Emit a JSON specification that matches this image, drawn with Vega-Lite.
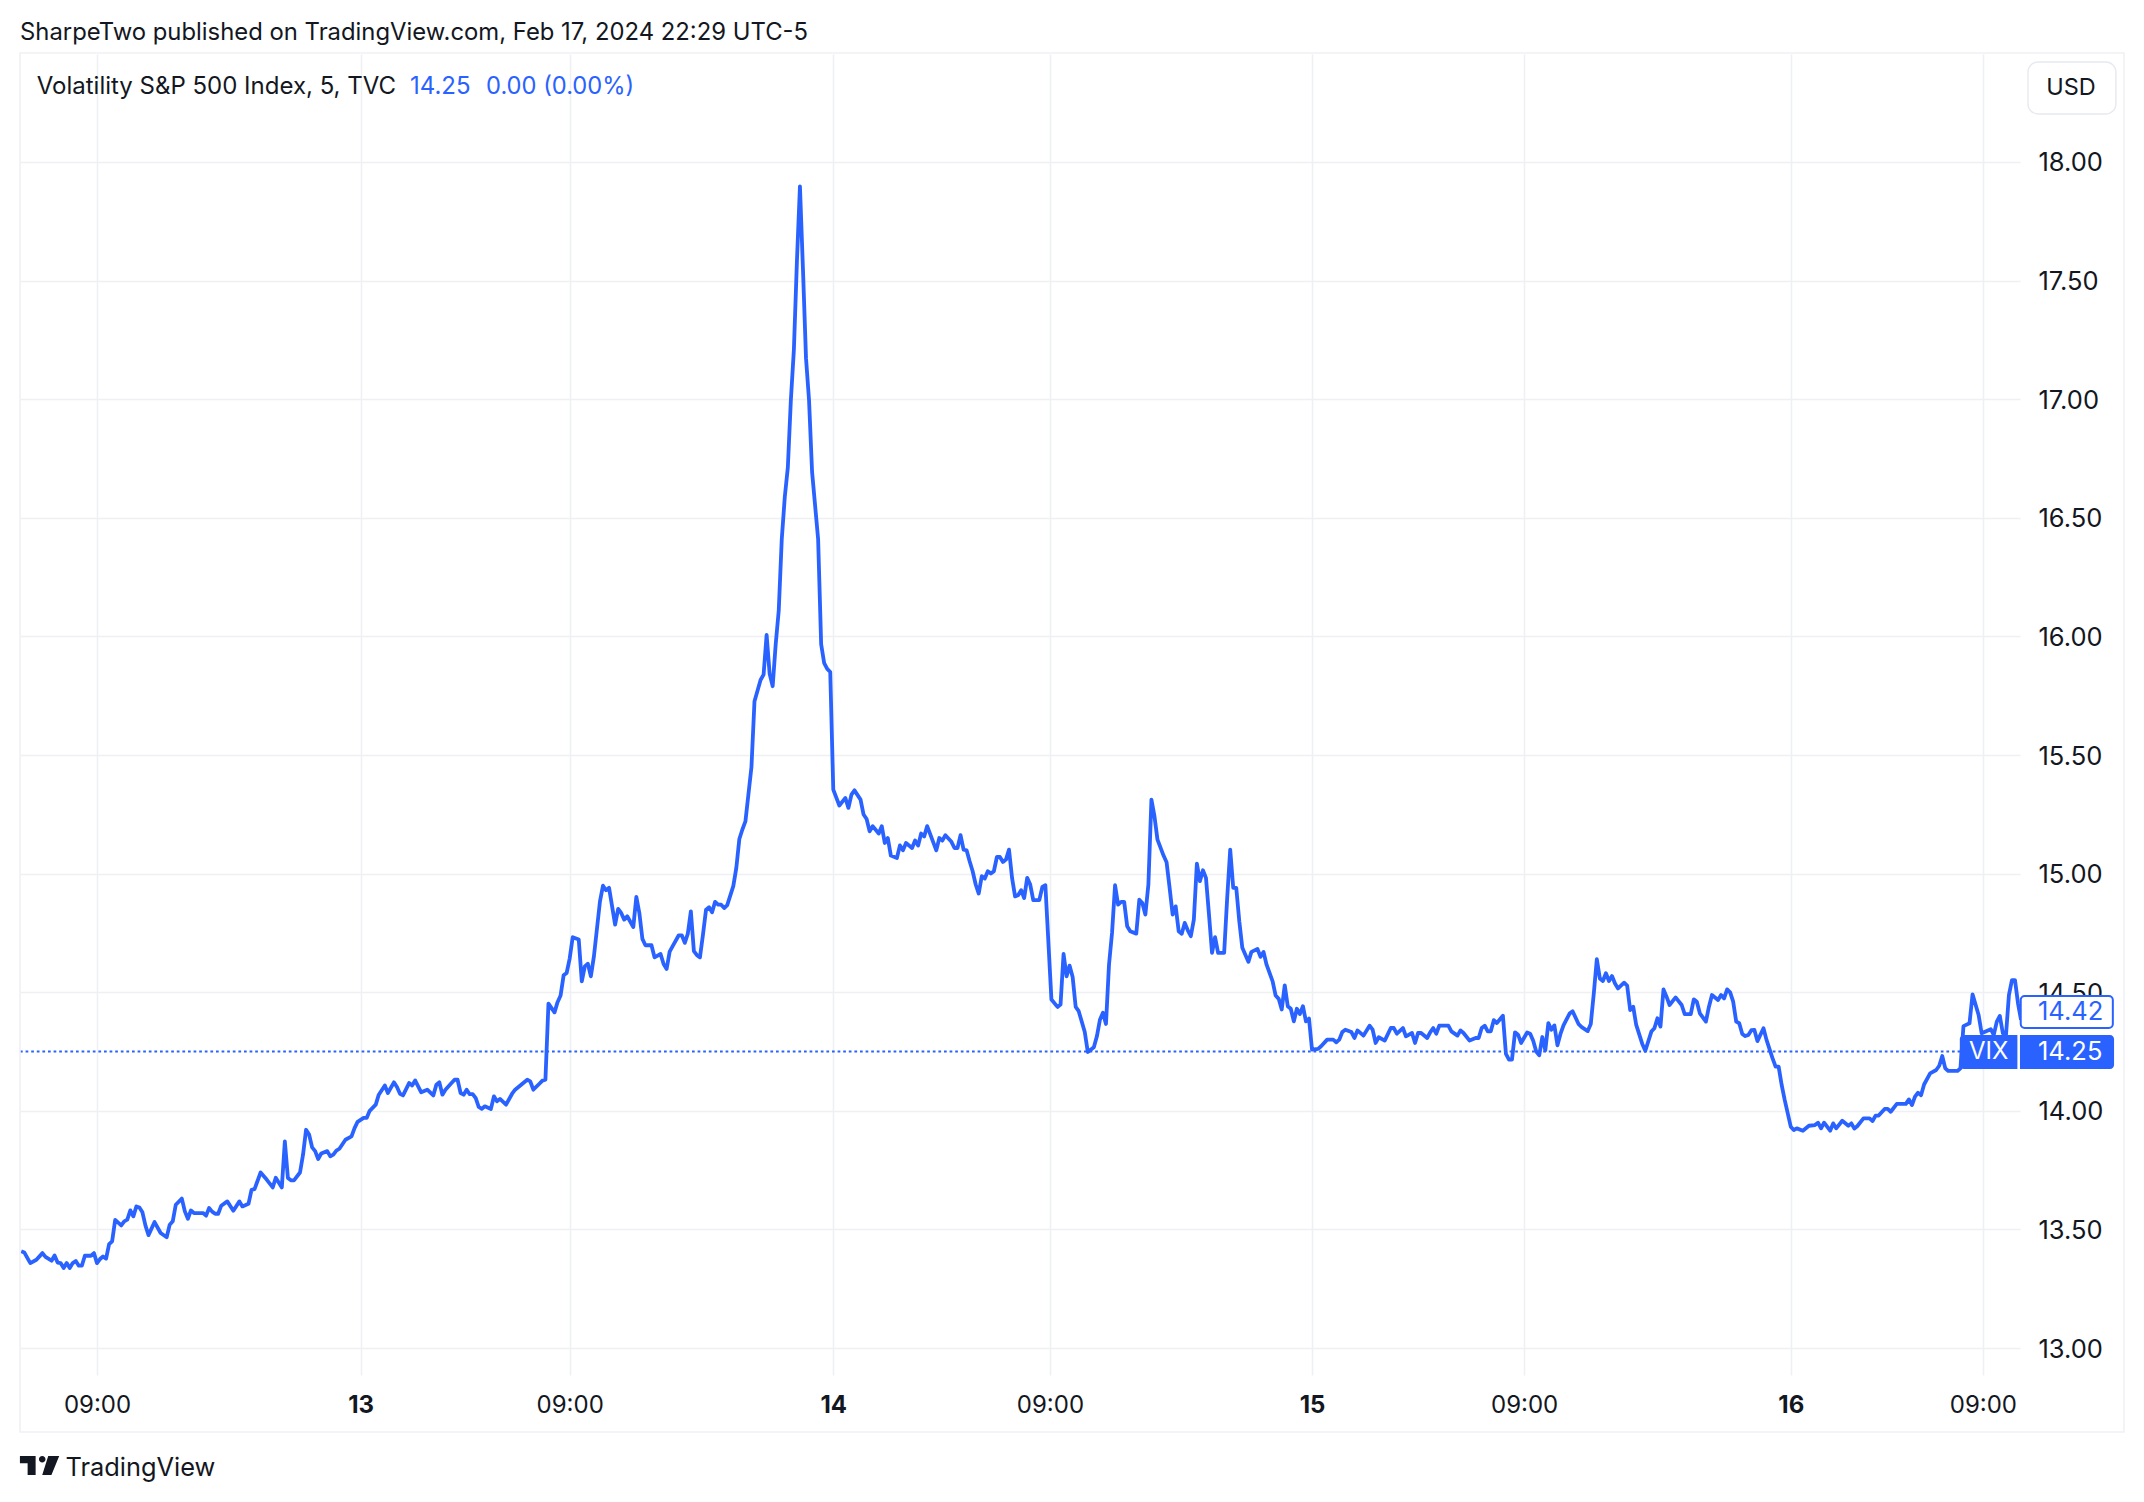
{
  "$schema": "https://vega.github.io/schema/vega-lite/v6.json",
  "description": "VIX 5 minute line chart, Feb 12 to 16 2024",
  "width": 2000,
  "height": 1321,
  "autosize": {"type": "none"},
  "padding": {"left": 20, "top": 54, "right": 124, "bottom": 127},
  "background": "#ffffff",
  "title": {
    "text": "SharpeTwo published on TradingView.com, Feb 17, 2024 22:29 UTC-5",
    "anchor": "start",
    "frame": "group",
    "offset": 7,
    "font": "Inter",
    "fontSize": 23.85,
    "fontWeight": "normal",
    "color": "#131722"
  },
  "config": {"view": {"stroke": null}},
  "datasets": {
    "vix": [
      {"bar":0,"vix":13.408},{"bar":1,"vix":13.403},{"bar":2,"vix":13.38},{"bar":3,"vix":13.358},{"bar":5,"vix":13.372},{"bar":7,"vix":13.4},{"bar":8,"vix":13.384},{"bar":10,"vix":13.368},{"bar":11,"vix":13.39},{"bar":12,"vix":13.36},{"bar":13,"vix":13.358},{"bar":14,"vix":13.337},{"bar":15,"vix":13.358},{"bar":16,"vix":13.337},{"bar":17,"vix":13.358},{"bar":18,"vix":13.367},{"bar":19,"vix":13.347},{"bar":20,"vix":13.347},{"bar":21,"vix":13.389},{"bar":23,"vix":13.389},{"bar":24,"vix":13.4},{"bar":25,"vix":13.358},{"bar":26,"vix":13.375},{"bar":27,"vix":13.386},{"bar":28,"vix":13.377},{"bar":29,"vix":13.438},{"bar":30,"vix":13.45},{"bar":31,"vix":13.54},{"bar":33,"vix":13.517},{"bar":34,"vix":13.534},{"bar":35,"vix":13.541},{"bar":36,"vix":13.58},{"bar":37,"vix":13.555},{"bar":38,"vix":13.597},{"bar":39,"vix":13.592},{"bar":40,"vix":13.572},{"bar":41,"vix":13.516},{"bar":42,"vix":13.476},{"bar":44,"vix":13.531},{"bar":46,"vix":13.485},{"bar":48,"vix":13.467},{"bar":49,"vix":13.52},{"bar":50,"vix":13.534},{"bar":51,"vix":13.604},{"bar":53,"vix":13.63},{"bar":54,"vix":13.576},{"bar":55,"vix":13.545},{"bar":56,"vix":13.58},{"bar":57,"vix":13.569},{"bar":60,"vix":13.569},{"bar":61,"vix":13.558},{"bar":62,"vix":13.59},{"bar":63,"vix":13.575},{"bar":64,"vix":13.566},{"bar":65,"vix":13.566},{"bar":66,"vix":13.6},{"bar":68,"vix":13.618},{"bar":70,"vix":13.579},{"bar":72,"vix":13.618},{"bar":73,"vix":13.597},{"bar":75,"vix":13.608},{"bar":76,"vix":13.667},{"bar":77,"vix":13.67},{"bar":79,"vix":13.74},{"bar":81,"vix":13.71},{"bar":83,"vix":13.677},{"bar":84,"vix":13.718},{"bar":86,"vix":13.677},{"bar":87,"vix":13.871},{"bar":88,"vix":13.717},{"bar":89,"vix":13.707},{"bar":90,"vix":13.707},{"bar":92,"vix":13.74},{"bar":93,"vix":13.815},{"bar":94,"vix":13.92},{"bar":95,"vix":13.9},{"bar":96,"vix":13.846},{"bar":97,"vix":13.83},{"bar":98,"vix":13.797},{"bar":99,"vix":13.82},{"bar":101,"vix":13.83},{"bar":102,"vix":13.808},{"bar":103,"vix":13.815},{"bar":104,"vix":13.832},{"bar":105,"vix":13.84},{"bar":107,"vix":13.878},{"bar":109,"vix":13.892},{"bar":110,"vix":13.927},{"bar":111,"vix":13.953},{"bar":113,"vix":13.97},{"bar":114,"vix":13.97},{"bar":115,"vix":14.0},{"bar":117,"vix":14.026},{"bar":118,"vix":14.068},{"bar":120,"vix":14.107},{"bar":121,"vix":14.075},{"bar":123,"vix":14.12},{"bar":124,"vix":14.1},{"bar":125,"vix":14.072},{"bar":126,"vix":14.065},{"bar":128,"vix":14.117},{"bar":129,"vix":14.107},{"bar":130,"vix":14.128},{"bar":132,"vix":14.078},{"bar":134,"vix":14.089},{"bar":136,"vix":14.065},{"bar":137,"vix":14.11},{"bar":138,"vix":14.12},{"bar":139,"vix":14.068},{"bar":140,"vix":14.089},{"bar":142,"vix":14.117},{"bar":143,"vix":14.131},{"bar":144,"vix":14.131},{"bar":145,"vix":14.075},{"bar":146,"vix":14.068},{"bar":147,"vix":14.089},{"bar":148,"vix":14.07},{"bar":149,"vix":14.07},{"bar":150,"vix":14.053},{"bar":151,"vix":14.016},{"bar":152,"vix":14.008},{"bar":153,"vix":14.019},{"bar":155,"vix":14.008},{"bar":156,"vix":14.061},{"bar":157,"vix":14.04},{"bar":158,"vix":14.05},{"bar":160,"vix":14.026},{"bar":162,"vix":14.072},{"bar":163,"vix":14.089},{"bar":165,"vix":14.11},{"bar":167,"vix":14.131},{"bar":168,"vix":14.124},{"bar":169,"vix":14.089},{"bar":171,"vix":14.114},{"bar":172,"vix":14.127},{"bar":173,"vix":14.131},
      {"bar":174,"vix":14.452},{"bar":176,"vix":14.415},{"bar":177,"vix":14.458},{"bar":178,"vix":14.486},{"bar":179,"vix":14.571},{"bar":180,"vix":14.581},{"bar":181,"vix":14.642},{"bar":182,"vix":14.732},{"bar":184,"vix":14.722},{"bar":185,"vix":14.546},{"bar":186,"vix":14.609},{"bar":187,"vix":14.62},{"bar":188,"vix":14.567},{"bar":189,"vix":14.651},{"bar":191,"vix":14.883},{"bar":192,"vix":14.949},{"bar":193,"vix":14.93},{"bar":194,"vix":14.94},{"bar":196,"vix":14.785},{"bar":197,"vix":14.851},{"bar":198,"vix":14.834},{"bar":199,"vix":14.806},{"bar":200,"vix":14.82},{"bar":202,"vix":14.775},{"bar":203,"vix":14.902},{"bar":204,"vix":14.834},{"bar":205,"vix":14.725},{"bar":206,"vix":14.698},{"bar":208,"vix":14.698},{"bar":209,"vix":14.647},{"bar":211,"vix":14.661},{"bar":212,"vix":14.619},{"bar":213,"vix":14.598},{"bar":214,"vix":14.671},{"bar":215,"vix":14.694},{"bar":217,"vix":14.74},{"bar":218,"vix":14.74},{"bar":219,"vix":14.708},{"bar":220,"vix":14.747},{"bar":221,"vix":14.841},{"bar":222,"vix":14.673},{"bar":223,"vix":14.656},{"bar":224,"vix":14.647},{"bar":225,"vix":14.743},{"bar":226,"vix":14.848},{"bar":227,"vix":14.858},{"bar":228,"vix":14.837},{"bar":229,"vix":14.881},{"bar":230,"vix":14.869},{"bar":231,"vix":14.869},{"bar":232,"vix":14.855},{"bar":233,"vix":14.867},{"bar":235,"vix":14.947},{"bar":236,"vix":15.024},{"bar":237,"vix":15.146},{"bar":238,"vix":15.186},{"bar":239,"vix":15.22},
      {"bar":241,"vix":15.45},{"bar":242,"vix":15.727},{"bar":244,"vix":15.816},{"bar":245,"vix":15.839},{"bar":246,"vix":16.006},{"bar":247,"vix":15.842},{"bar":248,"vix":15.79},{"bar":249,"vix":15.967},{"bar":250,"vix":16.109},{"bar":251,"vix":16.41},{"bar":252,"vix":16.588},{"bar":253,"vix":16.712},{"bar":254,"vix":16.996},{"bar":255,"vix":17.209},{"bar":256,"vix":17.581},{"bar":257,"vix":17.897},{"bar":258,"vix":17.546},{"bar":259,"vix":17.173},{"bar":260,"vix":16.996},{"bar":261,"vix":16.694},{"bar":263,"vix":16.41},{"bar":264,"vix":15.967},{"bar":265,"vix":15.887},{"bar":266,"vix":15.863},{"bar":267,"vix":15.85},{"bar":268,"vix":15.354},
      {"bar":270,"vix":15.287},{"bar":272,"vix":15.319},{"bar":273,"vix":15.277},{"bar":274,"vix":15.333},{"bar":275,"vix":15.351},{"bar":277,"vix":15.312},{"bar":278,"vix":15.249},{"bar":279,"vix":15.23},{"bar":280,"vix":15.178},{"bar":281,"vix":15.2},{"bar":283,"vix":15.169},{"bar":284,"vix":15.2},{"bar":285,"vix":15.129},{"bar":286,"vix":15.15},{"bar":287,"vix":15.076},{"bar":289,"vix":15.066},{"bar":290,"vix":15.119},{"bar":291,"vix":15.098},{"bar":292,"vix":15.129},{"bar":294,"vix":15.108},{"bar":295,"vix":15.14},{"bar":296,"vix":15.118},{"bar":297,"vix":15.169},{"bar":298,"vix":15.157},{"bar":299,"vix":15.2},{"bar":302,"vix":15.098},{"bar":303,"vix":15.15},{"bar":304,"vix":15.139},{"bar":305,"vix":15.162},{"bar":307,"vix":15.134},{"bar":308,"vix":15.108},{"bar":309,"vix":15.108},{"bar":310,"vix":15.162},{"bar":311,"vix":15.101},{"bar":312,"vix":15.098},{"bar":313,"vix":15.052},{"bar":314,"vix":15.01},{"bar":315,"vix":14.954},{"bar":316,"vix":14.916},{"bar":317,"vix":14.989},{"bar":318,"vix":14.979},{"bar":319,"vix":15.01},{"bar":320,"vix":15.0},{"bar":321,"vix":15.01},{"bar":322,"vix":15.07},{"bar":323,"vix":15.07},{"bar":324,"vix":15.049},{"bar":325,"vix":15.059},{"bar":326,"vix":15.101},{"bar":327,"vix":14.982},{"bar":328,"vix":14.904},{"bar":329,"vix":14.909},{"bar":330,"vix":14.93},{"bar":331,"vix":14.897},{"bar":332,"vix":14.982},{"bar":333,"vix":14.954},{"bar":334,"vix":14.888},{"bar":336,"vix":14.888},{"bar":337,"vix":14.944},{"bar":338,"vix":14.951},{"bar":340,"vix":14.469},{"bar":342,"vix":14.438},{"bar":343,"vix":14.448},{"bar":344,"vix":14.661},{"bar":345,"vix":14.567},{"bar":346,"vix":14.612},{"bar":347,"vix":14.564},{"bar":348,"vix":14.438},{"bar":349,"vix":14.42},{"bar":351,"vix":14.332},
      {"bar":352,"vix":14.248},{"bar":354,"vix":14.268},{"bar":355,"vix":14.314},{"bar":356,"vix":14.384},{"bar":357,"vix":14.413},{"bar":358,"vix":14.366},{"bar":359,"vix":14.616},{"bar":360,"vix":14.75},{"bar":361,"vix":14.951},{"bar":362,"vix":14.869},{"bar":363,"vix":14.881},{"bar":364,"vix":14.881},{"bar":365,"vix":14.778},{"bar":366,"vix":14.757},{"bar":368,"vix":14.747},{"bar":369,"vix":14.89},{"bar":370,"vix":14.876},{"bar":371,"vix":14.827},{"bar":372,"vix":14.954},{"bar":373,"vix":15.312},{"bar":374,"vix":15.242},{"bar":375,"vix":15.143},{"bar":377,"vix":15.076},{"bar":378,"vix":15.048},{"bar":379,"vix":14.94},{"bar":380,"vix":14.827},{"bar":381,"vix":14.862},{"bar":382,"vix":14.757},{"bar":383,"vix":14.746},{"bar":384,"vix":14.792},{"bar":385,"vix":14.761},{"bar":386,"vix":14.736},{"bar":387,"vix":14.806},{"bar":388,"vix":15.042},{"bar":389,"vix":14.968},{"bar":390,"vix":15.014},{"bar":391,"vix":14.982},{"bar":392,"vix":14.827},{"bar":393,"vix":14.666},{"bar":394,"vix":14.732},{"bar":395,"vix":14.666},{"bar":397,"vix":14.666},{"bar":398,"vix":14.897},{"bar":399,"vix":15.101},{"bar":400,"vix":14.94},{"bar":401,"vix":14.94},{"bar":402,"vix":14.799},{"bar":403,"vix":14.687},{"bar":405,"vix":14.628},{"bar":406,"vix":14.67},{"bar":408,"vix":14.682},{"bar":409,"vix":14.649},{"bar":410,"vix":14.67},{"bar":411,"vix":14.616},{"bar":413,"vix":14.546},{"bar":414,"vix":14.486},{"bar":415,"vix":14.472},{"bar":416,"vix":14.427},{"bar":417,"vix":14.529},{"bar":418,"vix":14.441},{"bar":419,"vix":14.43},{"bar":420,"vix":14.377},{"bar":421,"vix":14.43},{"bar":422,"vix":14.408},{"bar":423,"vix":14.441},{"bar":424,"vix":14.377},{"bar":425,"vix":14.389},{"bar":426,"vix":14.258},{"bar":428,"vix":14.261},{"bar":429,"vix":14.272},{"bar":431,"vix":14.3},{"bar":433,"vix":14.3},{"bar":434,"vix":14.289},{"bar":435,"vix":14.3},{"bar":436,"vix":14.332},{"bar":437,"vix":14.342},{"bar":439,"vix":14.332},{"bar":440,"vix":14.307},{"bar":441,"vix":14.339},{"bar":443,"vix":14.317},{"bar":445,"vix":14.359},{"bar":446,"vix":14.342},{"bar":447,"vix":14.286},{"bar":448,"vix":14.31},{"bar":450,"vix":14.296},{"bar":452,"vix":14.349},{"bar":453,"vix":14.349},{"bar":454,"vix":14.325},{"bar":456,"vix":14.349},{"bar":457,"vix":14.314},{"bar":459,"vix":14.328},{"bar":460,"vix":14.286},{"bar":461,"vix":14.328},{"bar":462,"vix":14.328},{"bar":464,"vix":14.307},{"bar":465,"vix":14.331},{"bar":466,"vix":14.349},{"bar":467,"vix":14.325},{"bar":468,"vix":14.359},{"bar":471,"vix":14.359},{"bar":472,"vix":14.335},{"bar":474,"vix":14.317},{"bar":475,"vix":14.339},{"bar":476,"vix":14.328},{"bar":478,"vix":14.296},{"bar":480,"vix":14.307},{"bar":481,"vix":14.307},{"bar":482,"vix":14.349},{"bar":483,"vix":14.359},{"bar":484,"vix":14.335},{"bar":485,"vix":14.335},{"bar":486,"vix":14.382},{"bar":487,"vix":14.37},{"bar":489,"vix":14.401},{"bar":490,"vix":14.24},{"bar":491,"vix":14.216},{"bar":492,"vix":14.216},{"bar":493,"vix":14.331},{"bar":494,"vix":14.321},{"bar":495,"vix":14.286},{"bar":497,"vix":14.33},{"bar":498,"vix":14.325},{"bar":499,"vix":14.295},{"bar":500,"vix":14.25},{"bar":501,"vix":14.234},{"bar":502,"vix":14.311},{"bar":503,"vix":14.255},{"bar":504,"vix":14.37},{"bar":505,"vix":14.342},{"bar":506,"vix":14.36},{"bar":507,"vix":14.276},{"bar":508,"vix":14.324},{"bar":509,"vix":14.36},{"bar":511,"vix":14.41},{"bar":512,"vix":14.42},{"bar":514,"vix":14.365},{"bar":515,"vix":14.353},{"bar":517,"vix":14.336},{"bar":518,"vix":14.366},
      {"bar":519,"vix":14.495},{"bar":520,"vix":14.639},{"bar":521,"vix":14.558},{"bar":522,"vix":14.547},{"bar":523,"vix":14.58},{"bar":524,"vix":14.547},{"bar":525,"vix":14.568},{"bar":526,"vix":14.537},{"bar":527,"vix":14.516},{"bar":529,"vix":14.54},{"bar":530,"vix":14.528},{"bar":531,"vix":14.425},{"bar":532,"vix":14.439},{"bar":533,"vix":14.362},{"bar":535,"vix":14.282},{"bar":536,"vix":14.253},{"bar":538,"vix":14.334},{"bar":539,"vix":14.348},{"bar":540,"vix":14.39},{"bar":541,"vix":14.355},{"bar":542,"vix":14.512},{"bar":543,"vix":14.481},{"bar":544,"vix":14.446},{"bar":546,"vix":14.478},{"bar":548,"vix":14.446},{"bar":549,"vix":14.408},{"bar":551,"vix":14.408},{"bar":552,"vix":14.47},{"bar":553,"vix":14.46},{"bar":554,"vix":14.411},{"bar":556,"vix":14.376},{"bar":557,"vix":14.439},{"bar":558,"vix":14.488},{"bar":560,"vix":14.467},{"bar":561,"vix":14.488},{"bar":562,"vix":14.474},{"bar":563,"vix":14.512},{"bar":564,"vix":14.499},{"bar":565,"vix":14.46},{"bar":566,"vix":14.376},{"bar":567,"vix":14.369},{"bar":568,"vix":14.324},{"bar":569,"vix":14.315},{"bar":570,"vix":14.32},{"bar":571,"vix":14.34},{"bar":572,"vix":14.341},{"bar":573,"vix":14.294},{"bar":575,"vix":14.348},{"bar":576,"vix":14.299},{"bar":578,"vix":14.221},{"bar":579,"vix":14.186},{"bar":580,"vix":14.186},{"bar":581,"vix":14.109},{"bar":582,"vix":14.046},{"bar":584,"vix":13.933},{"bar":585,"vix":13.919},{"bar":586,"vix":13.926},{"bar":588,"vix":13.916},{"bar":590,"vix":13.937},{"bar":592,"vix":13.94},{"bar":593,"vix":13.95},{"bar":594,"vix":13.926},{"bar":595,"vix":13.95},{"bar":597,"vix":13.916},{"bar":598,"vix":13.947},{"bar":599,"vix":13.926},{"bar":601,"vix":13.958},{"bar":603,"vix":13.937},{"bar":604,"vix":13.947},{"bar":605,"vix":13.925},{"bar":606,"vix":13.936},{"bar":608,"vix":13.968},{"bar":610,"vix":13.968},{"bar":611,"vix":13.957},{"bar":612,"vix":13.98},{"bar":613,"vix":13.98},{"bar":615,"vix":14.008},{"bar":616,"vix":14.008},{"bar":617,"vix":13.996},{"bar":619,"vix":14.029},{"bar":622,"vix":14.029},{"bar":623,"vix":14.048},{"bar":624,"vix":14.024},{"bar":625,"vix":14.06},{"bar":626,"vix":14.076},{"bar":627,"vix":14.066},{"bar":628,"vix":14.111},{"bar":630,"vix":14.158},{"bar":632,"vix":14.172},{"bar":633,"vix":14.19},{"bar":634,"vix":14.231},{"bar":635,"vix":14.179},{"bar":636,"vix":14.168},{"bar":639,"vix":14.168},{"bar":640,"vix":14.179},{"bar":641,"vix":14.357},{"bar":643,"vix":14.369},{"bar":644,"vix":14.491},{"bar":646,"vix":14.404},{"bar":647,"vix":14.327},{"bar":650,"vix":14.344},{"bar":651,"vix":14.32},{"bar":652,"vix":14.376},{"bar":653,"vix":14.4},{"bar":654,"vix":14.327},{"bar":655,"vix":14.313},{"bar":656,"vix":14.488},{"bar":657,"vix":14.551},{"bar":658,"vix":14.551},{"bar":659,"vix":14.453},{"bar":660,"vix":14.383}
    ]
  },
  "data": {"name": "vix"},
  "layer": [
    {
      "mark": {"type": "rule", "color": "#2962ff", "strokeWidth": 2, "strokeDash": [2.7, 2.9]},
      "data": {"values": [{}]},
      "encoding": {
        "y": {"datum": 14.25, "type": "quantitative"},
        "x": {"datum": -0.41, "type": "quantitative"},
        "x2": {"datum": 640}
      }
    },
    {
      "mark": {"type": "line", "color": "#2962ff", "strokeWidth": 3.8, "strokeJoin": "round"},
      "encoding": {
        "x": {
          "field": "bar",
          "type": "quantitative",
          "title": null,
          "scale": {"domain": [-0.41, 659.66], "nice": false, "zero": false},
          "axis": {
            "title": null,
            "orient": "bottom",
            "values": [25, 112, 181, 268, 339.5, 426, 496, 584, 647.4],
            "labelExpr": "datum.value==112?'13':datum.value==268?'14':datum.value==426?'15':datum.value==584?'16':'09:00'",
            "labelFontWeight": {"condition": {"test": "datum.value==112||datum.value==268||datum.value==426||datum.value==584", "value": "bold"}, "value": "normal"},
            "labelFont": "Inter",
            "labelFontSize": 24,
            "labelColor": "#131722",
            "labelPadding": 18,
            "labelOverlap": false,
            "labelFlush": false,
            "ticks": false,
            "domain": false,
            "grid": true,
            "gridColor": "#eff0f3",
            "gridWidth": 1.6
          }
        },
        "y": {
          "field": "vix",
          "type": "quantitative",
          "title": null,
          "scale": {"domain": [12.8862, 18.4553], "nice": false, "zero": false},
          "axis": {
            "title": null,
            "orient": "right",
            "values": [13, 13.5, 14, 14.5, 15, 15.5, 16, 16.5, 17, 17.5, 18],
            "format": ".2f",
            "labelFont": "Inter",
            "labelFontSize": 25.5,
            "labelColor": "#131722",
            "labelPadding": 18,
            "labelOffset": 1,
            "labelOverlap": false,
            "labelFlush": false,
            "ticks": false,
            "domain": false,
            "grid": true,
            "gridColor": "#eff0f3",
            "gridWidth": 1.6
          }
        }
      }
    },
    {
      "mark": {"type": "rect", "fill": "transparent", "stroke": "#f0f0f6", "strokeWidth": 1.6},
      "data": {"values": [{}]},
      "encoding": {
        "x": {"datum": -0.41, "type": "quantitative"},
        "x2": {"datum": 693.98},
        "y": {"datum": 18.4595, "type": "quantitative"},
        "y2": {"datum": 12.646}
      }
    },
    {
      "mark": {"type": "rect", "fill": "#ffffff", "stroke": "#e8e9ef", "strokeWidth": 1.4, "cornerRadius": 10},
      "data": {"values": [{}]},
      "encoding": {
        "x": {"datum": 662.3, "type": "quantitative"},
        "x2": {"datum": 691.3},
        "y": {"datum": 18.4216, "type": "quantitative"},
        "y2": {"datum": 18.2024}
      }
    },
    {
      "mark": {"type": "rect", "fill": "#ffffff", "stroke": "#2962ff", "strokeWidth": 2, "cornerRadius": 4},
      "data": {"values": [{}]},
      "encoding": {
        "x": {"datum": 659.9, "type": "quantitative"},
        "x2": {"datum": 690.3},
        "y": {"datum": 14.484, "type": "quantitative"},
        "y2": {"datum": 14.349}
      }
    },
    {
      "mark": {"type": "rect", "fill": "#2962ff", "cornerRadiusTopLeft": 4, "cornerRadiusBottomLeft": 4},
      "data": {"values": [{}]},
      "encoding": {
        "x": {"datum": 639.8, "type": "quantitative"},
        "x2": {"datum": 658.8},
        "y": {"datum": 14.3196, "type": "quantitative"},
        "y2": {"datum": 14.1762}
      }
    },
    {
      "mark": {"type": "rect", "fill": "#2962ff", "cornerRadiusTopRight": 4, "cornerRadiusBottomRight": 4},
      "data": {"values": [{}]},
      "encoding": {
        "x": {"datum": 659.65, "type": "quantitative"},
        "x2": {"datum": 690.7},
        "y": {"datum": 14.3196, "type": "quantitative"},
        "y2": {"datum": 14.1762}
      }
    },
    {
      "mark": {"type": "text", "text": "14.42", "align": "left", "baseline": "middle", "font": "Inter", "fontSize": 25.5, "color": "#2962ff"},
      "data": {"values": [{}]},
      "encoding": {
        "x": {"datum": 665.6, "type": "quantitative"},
        "y": {"datum": 14.417, "type": "quantitative"}
      }
    },
    {
      "mark": {"type": "text", "text": "14.25", "align": "left", "baseline": "middle", "font": "Inter", "fontSize": 25.5, "color": "#ffffff"},
      "data": {"values": [{}]},
      "encoding": {
        "x": {"datum": 665.6, "type": "quantitative"},
        "y": {"datum": 14.248, "type": "quantitative"}
      }
    },
    {
      "mark": {"type": "text", "text": "VIX", "align": "center", "baseline": "middle", "font": "Inter", "fontSize": 24, "color": "#ffffff"},
      "data": {"values": [{}]},
      "encoding": {
        "x": {"datum": 649.3, "type": "quantitative"},
        "y": {"datum": 14.248, "type": "quantitative"}
      }
    },
    {
      "mark": {"type": "text", "text": "USD", "align": "center", "baseline": "middle", "font": "Inter", "fontSize": 23.5, "color": "#131722"},
      "data": {"values": [{}]},
      "encoding": {
        "x": {"datum": 676.5, "type": "quantitative"},
        "y": {"datum": 18.31, "type": "quantitative"}
      }
    },
    {
      "mark": {"type": "text", "text": "Volatility S&P 500 Index, 5, TVC", "align": "left", "baseline": "middle", "font": "Inter", "fontSize": 24, "color": "#131722"},
      "data": {"values": [{}]},
      "encoding": {
        "x": {"datum": 5.1, "type": "quantitative"},
        "y": {"datum": 18.315, "type": "quantitative"}
      }
    },
    {
      "mark": {"type": "text", "text": "14.25", "align": "left", "baseline": "middle", "font": "Inter", "fontSize": 24, "color": "#2962ff"},
      "data": {"values": [{}]},
      "encoding": {
        "x": {"datum": 128.3, "type": "quantitative"},
        "y": {"datum": 18.315, "type": "quantitative"}
      }
    },
    {
      "mark": {"type": "text", "text": "0.00 (0.00%)", "align": "left", "baseline": "middle", "font": "Inter", "fontSize": 23.7, "color": "#2962ff"},
      "data": {"values": [{}]},
      "encoding": {
        "x": {"datum": 153.4, "type": "quantitative"},
        "y": {"datum": 18.315, "type": "quantitative"}
      }
    },
    {
      "mark": {"type": "text", "text": "TradingView", "align": "left", "baseline": "middle", "font": "Inter", "fontSize": 25.4, "color": "#131722"},
      "data": {"values": [{}]},
      "encoding": {
        "x": {"datum": 14.6, "type": "quantitative"},
        "y": {"datum": 12.494, "type": "quantitative"}
      }
    },
    {
      "mark": {
        "type": "point",
        "shape": "M -19.5 -9.5 H -3.8 V 9.5 H -11.8 V -2.2 H -19.5 Z M 8.8 -9.5 H 19.8 L 12 9.5 H 2.8 Z M 6.1 -6.2 A 3.3 3.3 0 1 1 -0.5 -6.2 A 3.3 3.3 0 1 1 6.1 -6.2 Z",
        "size": 4,
        "filled": true,
        "opacity": 1,
        "color": "#131722"
      },
      "data": {"values": [{}]},
      "encoding": {
        "x": {"datum": 6.0, "type": "quantitative"},
        "y": {"datum": 12.5046, "type": "quantitative"}
      }
    }
  ]
}
